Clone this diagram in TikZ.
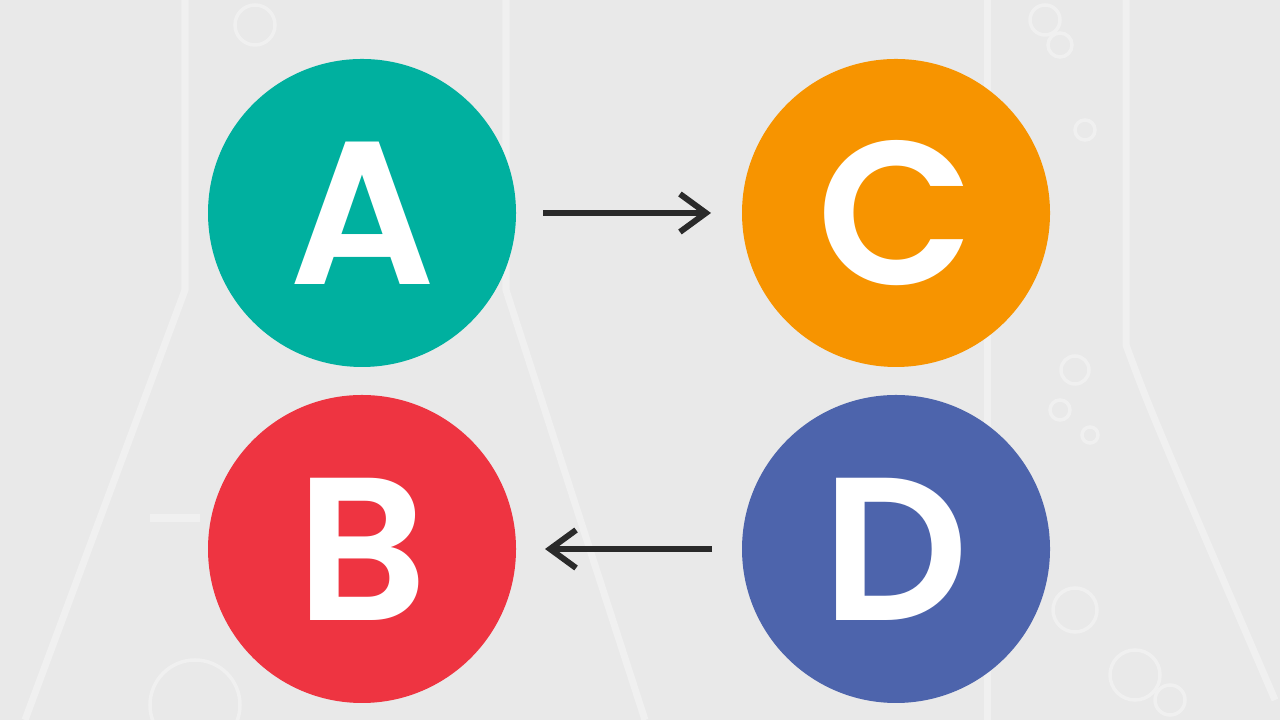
\documentclass[tikz,border=0pt]{standalone}
\usepackage{fontspec}
\newfontfamily\letterfont{Poppins SemiBold}
\usetikzlibrary{positioning}
\usetikzlibrary{arrows.meta}
\definecolor{bgcol}{HTML}{E9E9E9}
\definecolor{glasscol}{HTML}{F0F0F0}
\definecolor{tealcol}{HTML}{00B09F}
\definecolor{orangecol}{HTML}{F79400}
\definecolor{redcol}{HTML}{EE3441}
\definecolor{bluecol}{HTML}{4D64AC}
\definecolor{arrowcol}{HTML}{2A2A2A}

\begin{document}
\begin{tikzpicture}[ball/.style={circle,minimum size=3.08cm,inner sep=0mm,outer sep=0mm,text=white,font=\letterfont\fontsize{58}{58}\selectfont},
                    glass/.style={draw=glasscol,line width=2pt},
                    flow/.style={draw=arrowcol,line width=1.7pt,-{Straight Barb[length=2.6mm,width=3.8mm]}}]
          \fill [bgcol] (0,0) rectangle (12.8,7.2);
          \useasboundingbox (0,0) rectangle (12.8,7.2);
          % flasks in the background
          \draw [glass] (1.85,7.2) -- (1.85,4.3) -- (0.25,0);
          \draw [glass] (5.06,7.2) -- (5.06,4.3) -- (6.45,0);
          \draw [glass] (1.5,2.02) -- (2.0,2.02);
          \draw [glass] (9.87,7.2) -- (9.87,0);
          \draw [glass] (11.26,7.2) -- (11.26,3.75) .. controls (11.5,3.1) .. (12.75,0.2);
          \foreach \x/\y/\r in {2.55/6.95/0.2,10.45/7.0/0.15,10.6/6.75/0.12,10.85/5.9/0.1,10.75/3.5/0.14,10.6/3.1/0.1,10.9/2.85/0.08,10.75/1.1/0.22,11.35/0.45/0.25,11.7/0.2/0.15,1.95/0.15/0.45}
            \draw [glasscol,line width=1pt] (\x,\y) circle (\r);
          % letters
          \node (A) [ball,fill=tealcol] at (3.62,5.07) {A};
          \node (C) [ball,fill=orangecol,right=2.26cm of A] {C};
          \node (B) [ball,fill=redcol,below=0.28cm of A] {B};
          \node (D) [ball,fill=bluecol,right=2.26cm of B] {D};
          \draw [flow,shorten <=2.7mm,shorten >=3.1mm] (A) -- (C);
          \draw [flow,shorten <=3.0mm,shorten >=2.9mm] (D) -- (B);
        \end{tikzpicture}
\end{document}
